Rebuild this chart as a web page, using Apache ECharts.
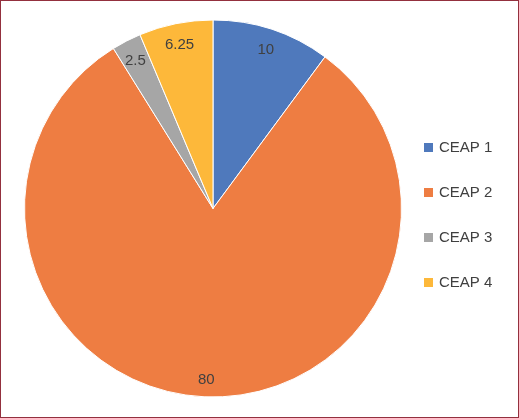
<!DOCTYPE html>
<html><head><meta charset="utf-8">
<script src="https://cdn.jsdelivr.net/npm/echarts@6/dist/echarts.min.js"></script>
<style>
html,body{margin:0;padding:0;background:#fff;}
#c{position:absolute;left:0;top:0;width:517px;height:416px;border:1px solid #93303e;}
</style></head>
<body><div id="c"></div>
<script>
const categories = ['CEAP 1', 'CEAP 2', 'CEAP 3', 'CEAP 4'];
const values = [10, 80, 2.5, 6.25];
const colors = ['#4F79BC', '#EE7D42', '#A6A6A6', '#FDB83A'];

const data = categories.map((n, i) => ({ name: n, value: values[i] }));
const chart = echarts.init(document.getElementById('c'));
chart.setOption({
  animation: false,
  color: colors,
  legend: {
    orient: 'vertical', left: 416, top: 134,
    itemWidth: 11, itemHeight: 11, itemGap: 30,
    icon: 'rect',
    textStyle: { fontFamily: 'Liberation Sans, Arial', fontSize: 15, color: '#404040' },
    data: categories
  },
  series: [
    {
      type: 'pie', center: [212, 207.5], radius: [0, 188.5],
      startAngle: 90, clockwise: true,
      itemStyle: { borderColor: '#fff', borderWidth: 1 },
      label: { show: false }, labelLine: { show: false },
      emphasis: { disabled: true },
      data: data
    },
    {
      type: 'pie', center: [212, 207.5], radius: [144, 188],
      startAngle: 90, clockwise: true, silent: true,
      itemStyle: { color: 'rgba(0,0,0,0)' },
      label: { show: true, position: 'inside', formatter: '{c}', offset: [0, 2],
        fontFamily: 'Liberation Sans, Arial', fontSize: 15, color: '#404040' },
      labelLine: { show: false },
      emphasis: { disabled: true },
      legendHoverLink: false,
      data: data
    }
  ]
});
</script></body></html>
